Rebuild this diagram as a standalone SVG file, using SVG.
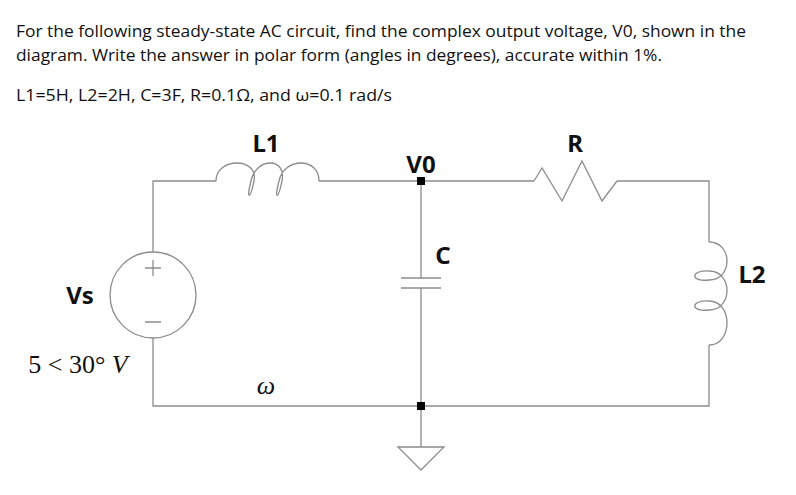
<svg xmlns="http://www.w3.org/2000/svg" width="796" height="495" viewBox="0 0 796 495">
<style>
.w{fill:none;stroke:#8c8c8c;stroke-width:1.3}
.t{font-family:"Open Sans","Liberation Sans",sans-serif;font-size:16.5px;fill:#111}
.b{font-family:"Noto Sans","DejaVu Sans",sans-serif;font-weight:bold;font-size:24px;fill:#111;text-anchor:middle}
.m{font-family:"Liberation Serif",serif;font-size:26px;fill:#111;text-anchor:middle}
</style>
<rect width="796" height="495" fill="#fff"/>
<text class="t" x="16" y="37" textLength="730" lengthAdjust="spacingAndGlyphs">For the following steady-state AC circuit, find the complex output voltage, V0, shown in the</text>
<text class="t" x="16" y="61" textLength="646" lengthAdjust="spacingAndGlyphs">diagram. Write the answer in polar form (angles in degrees), accurate within 1%.</text>
<text class="t" x="16" y="101" textLength="376" lengthAdjust="spacingAndGlyphs">L1=5H, L2=2H, C=3F, R=0.1Ω, and ω=0.1 rad/s</text>
<g id="wires">
<path class="w" d="M153 252 V181 H216 M319 181 H534 M617 181 H709 V242 M709 345 V406 H153 V338 M421 181 V278 M421 288 V447"/>
</g>
<g id="L1">
<path class="w" d="M216 181 C216 157 259 157 254 181 C250 200 246 200 251 181 C256 157 287 157 282 181 C278 200 274 200 279 181 C284 157 319 157 319 181"/>
</g>
<g id="R">
<path class="w" d="M534 181 L542 168 L562 201 L582 161 L602 201 L617 181"/>
</g>
<g id="L2">
<path class="w" d="M709 242 C733 242 733 280 709 280 C690 282 690 270 709 271 C733 271 733 310 709 310 C690 312 690 300 709 301 C733 301 733 345 709 345"/>
</g>
<g id="C">
<path class="w" d="M401 278 H441 M401 288 H441"/>
</g>
<g id="Vs">
<circle class="w" cx="153" cy="295" r="43"/>
<path class="w" d="M145 268 H161 M153 260 V276 M145 322 H161"/>
</g>
<g id="gnd">
<path class="w" d="M398 447 H444 L421 470 Z"/>
</g>
<rect x="417" y="177" width="8" height="8" fill="#000"/>
<rect x="417" y="402" width="8" height="8" fill="#000"/>
<text class="b" x="266" y="152">L1</text>
<text class="b" x="421" y="173">V0</text>
<text class="b" x="443" y="264">C</text>
<text class="b" x="575" y="152">R</text>
<text class="b" x="752" y="283">L2</text>
<text class="b" x="80" y="304">Vs</text>
<text class="m" x="78" y="373">5 &lt; 30° <tspan font-style="italic">V</tspan></text>
<text class="m" x="266" y="394" font-style="italic">ω</text>
</svg>
